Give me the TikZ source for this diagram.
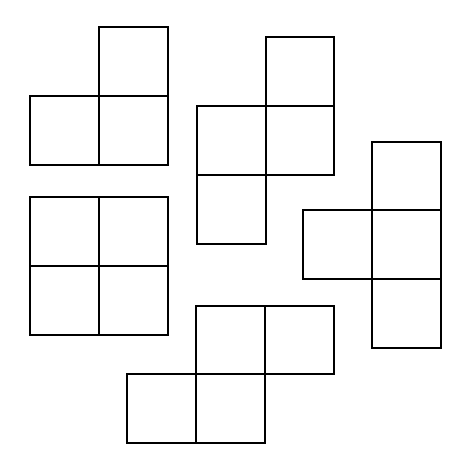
\documentclass[tikz,border=0pt]{standalone}
\usepackage{tikz}
\usetikzlibrary{positioning}

\begin{document}
\begin{tikzpicture}[x=0.02cm, y=-0.02cm, cell/.style={draw, rectangle, line width=1.1pt, minimum size=1.376cm, inner sep=0pt, outer sep=0pt}]
			\useasboundingbox (0, 0) rectangle (474, 475);
			
			\node[cell](tri1) at (133.2, 61.4) {};
			\node[cell](tri2) at (64.4, 130.2) {};
			\node[cell](tri3) at (133.2, 130.2) {};
			
			\node[cell](zig1) at (300, 71.6) {};
			\node[cell](zig2) at (231.2, 140.4) {};
			\node[cell](zig3) at (300, 140.4) {};
			\node[cell](zig4) at (231.2, 209.2) {};
			
			\node[cell](sq1) at (64.4, 231.4) {};
			\node[cell](sq2) at (133.2, 231.4) {};
			\node[cell](sq3) at (64.4, 300.2) {};
			\node[cell](sq4) at (133.2, 300.2) {};
			
			\node[cell](tee1) at (406.4, 176) {};
			\node[cell](tee2) at (337.6, 244.8) {};
			\node[cell](tee3) at (406.4, 244.8) {};
			\node[cell](tee4) at (406.4, 313.6) {};
			
			\node[cell](ess1) at (230.4, 340) {};
			\node[cell](ess2) at (299.2, 340) {};
			\node[cell](ess3) at (161.6, 408.8) {};
			\node[cell](ess4) at (230.4, 408.8) {};
			\end{tikzpicture}
\end{document}
